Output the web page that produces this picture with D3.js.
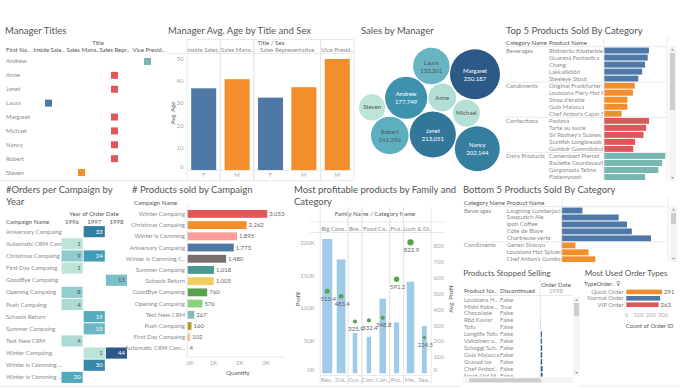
<!DOCTYPE html>
<html>
<head>
<meta charset="utf-8">
<script src="https://cdn.jsdelivr.net/npm/d3@7"></script>
<style>
  body { margin: 0; background: #fff; }
  svg { display: block; font-family: Lato, "Open Sans", sans-serif; }
</style>
</head>
<body>
<svg id="dash" width="680" height="389"></svg>
<script>
// ---------------- DATA ----------------
const managerNames = ["Andrew", "Anne", "Janet", "Laura", "Margaret", "Michael", "Nancy", "Robert", "Steven"];
const titleNames = ["Inside Sales Coordinator", "Sales Manager", "Sales Representative", "Vice President, Sales"];
const titleShort = ["Inside Sale..", "Sales Mana..", "Sales Repr..", "Vice Presid.."];
const managerTitle = [3, 2, 2, 0, 2, 2, 2, 2, 1];

const ageGroups = ["Inside Sales..", "Sales Mana..", "Sales Representative", "Sales Representative", "Vice Presid.."];
const ageSex = ["F", "M", "F", "M", "M"];
const avgAge = [36.8, 40.9, 32.6, 37.3, 50];
const ageTicks = [0, 10, 20, 30, 40, 50];

const salesNames = ["Janet", "Andrew", "Anne", "Robert", "Laura", "Steven", "Margaret", "Michael", "Nancy"];
const salesValues = [213051, 177749, 77308, 141296, 133301, 68792, 250187, 73913, 202144];

const categories = ["Beverages", "Condiments", "Confections", "Dairy Products"];
const topProducts = ["Rhönbräu Klosterbier", "Guaraná Fantástica", "Chang", "Lakkalikööri", "Steeleye Stout",
  "Original Frankfurter grüne Soße", "Louisiana Fiery Hot Pepper Sauce", "Sirop d'érable", "Gula Malacca", "Chef Anton's Cajun Seasoning",
  "Pavlova", "Tarte au sucre", "Sir Rodney's Scones", "Scottish Longbreads", "Gumbär Gummibärchen",
  "Camembert Pierrot", "Raclette Courdavault", "Gorgonzola Telino", "Flotemysost", "Mozzarella di Giovanni"];
const topCategory = [0, 0, 0, 0, 0, 1, 1, 1, 1, 1, 2, 2, 2, 2, 2, 3, 3, 3, 3, 3];
const topQuantity = [1155, 1125, 1057, 981, 883, 791, 745, 603, 601, 453, 1158, 1083, 1016, 799, 753, 1577, 1496, 1397, 1057, 806];

const campaignRows = ["Aniversary Campaing", "Automatic CRM Cam..", "Christmas Campaing", "First Day Campaing",
  "GoodBye Campaing", "Opening Campaing", "Push Campaing", "Schools Return", "Summer Campaing",
  "Test New CRM", "Winter Campaing", "Winter is Comming ...", "Winter is Comming ..."];
const orderYears = ["1996", "1997", "1998"];
const orders1996 = [null, 1, 9, 1, null, 8, 4, null, null, 4, null, null, 20];
const orders1997 = [33, null, 24, null, null, null, null, 19, 15, null, 1, 30, null];
const orders1998 = [null, null, null, null, 13, null, null, null, null, null, 44, null, null];

const soldCampaigns = ["Winter Campaing", "Christmas Campaing", "Winter is Comming ", "Aniversary Campaing",
  "Winter is Comming C..", "Summer Campaing", "Schools Return", "GoodBye Campaing", "Opening Campaing",
  "Test New CRM", "Push Campaing", "First Day Campaing", "Automatic CRM Cam..."];
const soldQuantity = [3053, 2262, 1895, 1773, 1480, 1018, 1005, 760, 576, 267, 160, 102, 4];
const soldColors = ["#e15759", "#f28e2b", "#ff9d9a", "#4e79a7", "#79706e", "#499894", "#f1ce63",
  "#59a14f", "#8cd17d", "#86bcb6", "#b6992d", "#ffbe7d", "#a0cbe8"];
const quantityTicks = [0, 1000, 2000, 3000];

const familyOfCat = ["Big Cons..", "Big Cons..", "Bre..", "Food Co..", "Food Co..", "Frui..", "Luch & Di..", "Luch & Di.."];
const profitCats = ["Bev..", "Dai..", "Gra..", "Con..", "Con..", "Pro..", "Me..", "Sea.."];
const profit = [206600, 175400, 62000, 56300, 114800, 78500, 140900, 72800];
const avgProfit = [515.4, 483.4, 325.9, 332.4, 348.8, 591.2, 822.9, 224.5];
const profitTicks = [0, 50000, 100000, 150000, 200000];
const avgProfitTicks = [0, 100, 200, 300, 400, 500, 600, 700, 800];

const bottomProducts = ["Laughing Lumberjack Lager", "Sasquatch Ale", "Ipoh Coffee", "Côte de Blaye", "Chartreuse verte",
  "Genen Shouyu", "Louisiana Hot Spiced Okra", "Chef Anton's Gumbo Mix"];
const bottomCategory = [0, 0, 0, 0, 0, 1, 1, 1];
const bottomQuantity = [184, 506, 580, 623, 793, 122, 239, 298];

const stoppedProducts = ["Louisiana H..", "Mishi Kobe ..", "Chocolade", "Röd Kaviar", "Tofu", "Longlife Tofu",
  "Valkoinen s..", "Schoggi Sch..", "Gula Malacca", "Gravad lax", "Chef Anton'..", "Nord-Ost M.."];
const stoppedFlag = ["False", "True", "False", "False", "False", "False", "False", "False", "False", "False", "False", "False"];
const stopped1998 = [0, 0, 0, 3, 4, 15, 15, 18, 18, 18, 22, 22];

const orderTypes = ["Quick Order", "Normal Order", "VIP Order"];
const orderTypeCount = [291, 276, 263];
const orderTypeColors = ["#f28e2b", "#4e79a7", "#e15759"];
const countTicks = [0, 100, 200, 300];

const titleColors = ["#4e79a7", "#f28e2b", "#e15759", "#76b7b2"];
const categoryColors = ["#4e79a7", "#f28e2b", "#e15759", "#76b7b2"];
const sexColors = { F: "#4e79a7", M: "#f28e2b" };
const blueTeal = ["#bce4d8", "#80c2ca", "#46a1b8", "#337c9f", "#2c5985"];

// ---------------- HELPERS ----------------
const svg = d3.select("#dash");
const C_TITLE = "#555", C_HEAD = "#555", C_ROW = "#8a8a8a", C_TICK = "#a8a8a8", C_LINE = "#e4e4e4";

function label(g, x, y, s, size, color, anchor) {
  return g.append("text").attr("x", x).attr("y", y)
    .attr("font-size", size).attr("fill", color)
    .attr("text-anchor", anchor || "start").text(s);
}
function hline(g, x1, x2, y, color) {
  g.append("line").attr("x1", x1).attr("x2", x2).attr("y1", y).attr("y2", y)
    .attr("stroke", color || C_LINE).attr("stroke-width", 0.8);
}
function vline(g, x, y1, y2, color) {
  g.append("line").attr("x1", x).attr("x2", x).attr("y1", y1).attr("y2", y2)
    .attr("stroke", color || C_LINE).attr("stroke-width", 0.8);
}
function spans(list) {
  const out = [];
  list.forEach((name, i) => {
    const last = out[out.length - 1];
    if (last && last.name === name) last.end = i;
    else out.push({ name: name, start: i, end: i });
  });
  return out;
}
function scrollbar(g, x, y1, y2, t1, t2) {
  g.append("rect").attr("x", x).attr("y", y1).attr("width", 7).attr("height", y2 - y1).attr("fill", "#f4f4f4");
  g.append("rect").attr("x", x + 1).attr("y", t1).attr("width", 5).attr("height", t2 - t1).attr("fill", "#cdcdcd");
  g.append("path").attr("d", `M${x + 2},${y1 + 4} L${x + 3.5},${y1 + 2} L${x + 5},${y1 + 4}Z`).attr("fill", "#999");
  g.append("path").attr("d", `M${x + 2},${y2 - 4} L${x + 3.5},${y2 - 2} L${x + 5},${y2 - 4}Z`).attr("fill", "#999");
}

// ---------------- MANAGER TITLES ----------------
const g1 = svg.append("g");
label(g1, 5, 33.5, "Manager Titles", 9.5, C_TITLE);
const xTitle = d3.scaleBand(titleNames, [32, 164]);
const yMgr = d3.scaleBand(managerNames, [54.5, 179.5]);
label(g1, 98, 45, "Title", 6, C_HEAD, "middle");
label(g1, 6, 52, "First Na..", 6, C_HEAD);
titleNames.forEach((t, i) => label(g1, xTitle(t) + 1.5, 52, titleShort[i], 6, C_HEAD));
managerNames.forEach(n => label(g1, 6, yMgr(n) + yMgr.bandwidth() / 2 + 2, n, 6, C_ROW));
g1.selectAll(".sq").data(managerNames).join("rect")
  .attr("x", (d, i) => xTitle(titleNames[managerTitle[i]]) + xTitle.bandwidth() / 2 - 3.5)
  .attr("y", d => yMgr(d) + yMgr.bandwidth() / 2 - 3.5)
  .attr("width", 7).attr("height", 7)
  .attr("fill", (d, i) => titleColors[managerTitle[i]]);
hline(g1, 0, 163, 180.5);

// ---------------- MANAGER AVG AGE ----------------
const g2 = svg.append("g");
label(g2, 168, 33.5, "Manager Avg. Age by Title and Sex", 9.5, C_TITLE);
const xAge = d3.scaleBand(d3.range(avgAge.length), [187, 354]).paddingInner(0.25).paddingOuter(0.125);
const yAge = d3.scaleLinear([0, 50], [170, 59]);
const slotL = i => xAge(i) - xAge.step() * 0.125;
label(g2, 271, 45, "Title / Sex", 6, C_HEAD, "middle");
hline(g2, 187, 354, 39.5);
hline(g2, 168, 354, 53.5);
spans(ageGroups).forEach(s => {
  const x0 = slotL(s.start), x1 = slotL(s.end) + xAge.step();
  label(g2, (x0 + x1) / 2, 52, s.name, 6, C_ROW, "middle");
  vline(g2, x0, 39.5, 180);
  vline(g2, x1, 39.5, 180);
});
ageTicks.forEach(t => label(g2, 183.5, t === 0 ? yAge(t) - 1 : yAge(t) + 2, t, 6, C_TICK, "end"));
label(g2, 0, 0, "Avg. Age", 6, C_HEAD, "middle").attr("transform", "translate(175,113) rotate(-90)");
g2.selectAll(".bar").data(avgAge).join("rect")
  .attr("x", (d, i) => xAge(i))
  .attr("y", d => yAge(d))
  .attr("width", xAge.bandwidth())
  .attr("height", d => yAge(0) - yAge(d))
  .attr("fill", (d, i) => sexColors[ageSex[i]]);
hline(g2, 187, 354, 170.5);
ageSex.forEach((s, i) => label(g2, xAge(i) + xAge.bandwidth() / 2, 176.5, s, 6, C_TICK, "middle"));
hline(g2, 163, 354, 180.5);

// ---------------- SALES BY MANAGER ----------------
// packed bubbles: each bubble is set against two bubbles already placed
const bubbleLinks = [null, null, ["Janet", "Andrew"], ["Andrew", "Janet"], ["Anne", "Andrew"],
  ["Andrew", "Robert"], ["Anne", "Laura"], ["Anne", "Margaret"], ["Janet", "Michael"]];
const g3 = svg.append("g");
label(g3, 361, 33.5, "Sales by Manager", 9.5, C_TITLE);
const bubR = d3.scaleSqrt().domain([0, d3.max(salesValues)]).range([0, 25]);
const bubColor = d3.scaleSequential(d3.piecewise(d3.interpolateRgb, blueTeal))
  .domain(d3.extent(salesValues));
const bubbles = salesNames.map((n, i) => ({ name: n, value: salesValues[i], r: bubR(salesValues[i]) }));
const byName = {};
const gap = 1.2, rot = -126 * Math.PI / 180;
bubbles.forEach((b, i) => {
  if (i === 0) {
    b.x = 0; b.y = 0;
  } else if (i === 1) {
    const d = bubbles[0].r + b.r + gap;
    b.x = d * Math.cos(rot); b.y = d * Math.sin(rot);
  } else {
    const a = byName[bubbleLinks[i][0]], c = byName[bubbleLinks[i][1]];
    const R1 = a.r + b.r + gap, R2 = c.r + b.r + gap;
    const dx = c.x - a.x, dy = c.y - a.y, d = Math.hypot(dx, dy);
    const l = (R1 * R1 - R2 * R2 + d * d) / (2 * d);
    const h = Math.sqrt(Math.max(0, R1 * R1 - l * l));
    b.x = a.x + (l * dx - h * dy) / d;
    b.y = a.y + (l * dy + h * dx) / d;
  }
  byName[b.name] = b;
});
const bx = (d3.min(bubbles, b => b.x - b.r) + d3.max(bubbles, b => b.x + b.r)) / 2;
const by = (d3.min(bubbles, b => b.y - b.r) + d3.max(bubbles, b => b.y + b.r)) / 2;
const bub = g3.append("g").attr("transform", `translate(${429.5 - bx},${109.5 - by})`);
const node = bub.selectAll(".b").data(bubbles).join("g")
  .attr("transform", d => `translate(${d.x},${d.y})`);
node.append("circle").attr("r", d => d.r).attr("fill", d => bubColor(d.value));
node.append("text")
  .attr("y", d => d.r > 17 ? -1.5 : 2)
  .attr("text-anchor", "middle").attr("font-size", 6)
  .attr("fill", d => d.value > 160000 ? "#fff" : "#555")
  .text(d => d.name);
node.filter(d => d.r > 17).append("text")
  .attr("y", 6.5)
  .attr("text-anchor", "middle").attr("font-size", 6)
  .attr("fill", d => d.value > 160000 ? "#fff" : "#555")
  .text(d => d3.format(",")(d.value));

// ---------------- TOP 5 PRODUCTS ----------------
const g4 = svg.append("g");
label(g4, 506, 33.5, "Top 5 Products Sold By Category", 9.5, C_TITLE);
label(g4, 506, 44.5, "Category Name", 6, C_HEAD);
label(g4, 549, 44.5, "Product Name", 6, C_HEAD);
const yTop = d3.scaleBand(d3.range(topProducts.length), [46.5, 46.5 + topProducts.length * 7.08]).padding(0.15);
const xTop = d3.scaleLinear([0, 1600], [604, 666.2]);
const topBottom = 181;
svg.append("clipPath").attr("id", "clipTop").append("rect").attr("x", 500).attr("y", 46.5).attr("width", 168).attr("height", topBottom - 46.5);
svg.append("clipPath").attr("id", "clipTopName").append("rect").attr("x", 548).attr("y", 40).attr("width", 55).attr("height", 150);
const topG = g4.append("g").attr("clip-path", "url(#clipTop)");
const topNames = topG.append("g").attr("clip-path", "url(#clipTopName)");
topG.selectAll(".bar").data(topQuantity).join("rect")
  .attr("x", xTop(0))
  .attr("y", (d, i) => yTop(i))
  .attr("width", d => xTop(d) - xTop(0))
  .attr("height", yTop.bandwidth())
  .attr("fill", (d, i) => categoryColors[topCategory[i]]);
topProducts.forEach((p, i) => {
  if (yTop(i) < topBottom) label(topNames, 549, yTop(i) + yTop.bandwidth() / 2 + 2, p, 6, C_ROW);
});
spans(topCategory).forEach(s => {
  const y0 = yTop(s.start) - yTop.step() * 0.15 / 2;
  label(topG, 506, y0 + yTop.step() / 2 + 2, categories[s.name], 6, C_ROW);
  if (s.start > 0) hline(topG, 506, 667, y0);
});
hline(g4, 506, 667, 46.5);
vline(g4, 604, 37, 181);
vline(g4, 667, 37, 181);
scrollbar(g4, 669, 46.5, 181, 53, 110);

// ---------------- ORDERS PER CAMPAIGN ----------------
const g5 = svg.append("g");
label(g5, 6, 193, "#Orders per Campaign by", 9.5, C_TITLE);
label(g5, 6, 205, "Year", 9.5, C_TITLE);
const xYear = d3.scaleBand(orderYears, [61, 127.5]);
const yCamp = d3.scaleBand(d3.range(campaignRows.length), [225.6, 225.6 + campaignRows.length * 12.14]);
const heat = d3.scaleSequential(d3.piecewise(d3.interpolateRgb, blueTeal)).domain([1, 44]);
label(g5, 94, 216, "Year of Order Date", 6, C_HEAD, "middle");
label(g5, 6, 224, "Campaign Name", 6, C_HEAD);
orderYears.forEach(y => label(g5, xYear(y) + xYear.bandwidth() / 2, 224, y, 6, C_HEAD, "middle"));
campaignRows.forEach((c, i) => label(g5, 6, yCamp(i) + yCamp.bandwidth() / 2 + 2, c, 6, C_ROW));
const cells = [orders1996, orders1997, orders1998].flatMap((vals, yi) =>
  vals.map((v, ci) => ({ year: orderYears[yi], row: ci, value: v }))).filter(d => d.value !== null);
g5.selectAll(".cell").data(cells).join("rect")
  .attr("x", d => xYear(d.year) + 0.5)
  .attr("y", d => yCamp(d.row) + 0.5)
  .attr("width", xYear.bandwidth() - 1)
  .attr("height", yCamp.bandwidth() - 1)
  .attr("fill", d => heat(d.value));
g5.selectAll(".num").data(cells).join("text")
  .attr("x", d => xYear(d.year) + xYear.bandwidth() - 2.5)
  .attr("y", d => yCamp(d.row) + yCamp.bandwidth() / 2 + 2)
  .attr("text-anchor", "end").attr("font-size", 6)
  .attr("fill", d => d.value >= 15 ? "#fff" : "#555")
  .text(d => d.value);

// ---------------- PRODUCTS SOLD BY CAMPAIGN ----------------
const g6 = svg.append("g");
label(g6, 132, 193, "# Products sold by Campaign", 9.5, C_TITLE);
label(g6, 134, 205, "Campaign Name", 6, C_HEAD);
const xQty = d3.scaleLinear([0, 3000], [187.3, 265.9]);
const yQty = d3.scaleBand(d3.range(soldQuantity.length), [206.6, 206.6 + soldQuantity.length * 11.47]).padding(0.3);
g6.selectAll(".bar").data(soldQuantity).join("rect")
  .attr("x", xQty(0))
  .attr("y", (d, i) => yQty(i))
  .attr("width", d => xQty(d) - xQty(0))
  .attr("height", yQty.bandwidth())
  .attr("fill", (d, i) => soldColors[i]);
soldCampaigns.forEach((c, i) => label(g6, 185, yQty(i) + yQty.bandwidth() / 2 + 2, c, 6, C_ROW, "end"));
soldQuantity.forEach((q, i) => label(g6, xQty(q) + 2, yQty(i) + yQty.bandwidth() / 2 + 2, d3.format(",")(q), 6, "#666"));
vline(g6, 187.3, 206, 357);
hline(g6, 187.3, 285, 357);
quantityTicks.forEach(t => label(g6, xQty(t) + (t === 0 ? 3 : 0), 365, t / 1000 + "K", 6, C_TICK, "middle"));
label(g6, 238, 375, "Quantity", 6, C_HEAD, "middle");

// ---------------- MOST PROFITABLE ----------------
const g7 = svg.append("g");
label(g7, 294, 193, "Most profitable products by Family and", 9.5, C_TITLE);
label(g7, 294, 205, "Category", 9.5, C_TITLE);
const xProf = d3.scaleBand(d3.range(profitCats.length), [320.3, 431.3]);
const yProf = d3.scaleLinear([0, 200000], [373.3, 243.3]);
const yAvg = d3.scaleLinear([0, 800], [373.3, 246]);
const wProf = d3.scaleLinear([0, d3.max(profit)], [2.2, 10]);
const rDot = d3.scaleSqrt([0, d3.max(avgProfit)], [0, 3.2]);
const cx = i => xProf(i) + xProf.bandwidth() / 2;
label(g7, 375, 216, "Family Name / Category Name", 6, C_HEAD, "middle");
hline(g7, 310, 445, 222);
hline(g7, 310, 445, 232.5);
spans(familyOfCat).forEach(s => {
  const x0 = xProf(s.start), x1 = xProf(s.end) + xProf.step();
  label(g7, (x0 + x1) / 2, 230.5, s.name, 6, C_ROW, "middle");
  vline(g7, x0, 207, 384);
  vline(g7, x1, 207, 384);
});
profitTicks.forEach(t => label(g7, 314.7, t === 0 ? yProf(t) - 1 : yProf(t) + 2, t / 1000 + "K", 6, C_TICK, "end"));
avgProfitTicks.forEach(t => label(g7, 433.5, t === 0 ? yAvg(t) - 1 : yAvg(t) + 2, t, 6, C_TICK));
label(g7, 0, 0, "Profit", 6, C_HEAD, "middle").attr("transform", "translate(300,299) rotate(-90)");
label(g7, 0, 0, "Avg. Profit", 6, C_HEAD, "middle").attr("transform", "translate(453,299) rotate(-90)");
g7.selectAll(".bar").data(profit).join("rect")
  .attr("x", (d, i) => cx(i) - wProf(d) / 2)
  .attr("y", d => yProf(d))
  .attr("width", d => wProf(d))
  .attr("height", d => yProf(0) - yProf(d))
  .attr("fill", "#a0cbe8");
g7.selectAll(".dot").data(avgProfit).join("circle")
  .attr("cx", (d, i) => cx(i))
  .attr("cy", d => yAvg(d))
  .attr("r", d => rDot(d))
  .attr("fill", "#59a14f");
avgProfit.forEach((v, i) => label(g7, cx(i) + 1, yAvg(v) + 9.5, v, 6, "#666", "middle"));
hline(g7, 320.3, 431.3, 375.5);
profitCats.forEach((c, i) => label(g7, cx(i), 382, c, 6, C_TICK, "middle"));

// ---------------- BOTTOM 5 PRODUCTS ----------------
const g8 = svg.append("g");
label(g8, 463, 193, "Bottom 5 Products Sold By Category", 9.5, C_TITLE);
label(g8, 464, 205, "Category Name", 6, C_HEAD);
label(g8, 506.7, 205, "Product Name", 6, C_HEAD);
const yBot = d3.scaleBand(d3.range(bottomProducts.length), [206.5, 206.5 + bottomProducts.length * 7.1]).padding(0.15);
const xBot = d3.scaleLinear([0, 800], [561.7, 651.8]);
svg.append("clipPath").attr("id", "clipBot").append("rect").attr("x", 460).attr("y", 206.5).attr("width", 210).attr("height", 55.5);
svg.append("clipPath").attr("id", "clipBotName").append("rect").attr("x", 505).attr("y", 200).attr("width", 55.5).attr("height", 70);
const botG = g8.append("g").attr("clip-path", "url(#clipBot)");
const botNames = botG.append("g").attr("clip-path", "url(#clipBotName)");
botG.selectAll(".bar").data(bottomQuantity).join("rect")
  .attr("x", xBot(0))
  .attr("y", (d, i) => yBot(i))
  .attr("width", d => xBot(d) - xBot(0))
  .attr("height", yBot.bandwidth())
  .attr("fill", (d, i) => categoryColors[bottomCategory[i]]);
bottomProducts.forEach((p, i) => label(botNames, 506.7, yBot(i) + yBot.bandwidth() / 2 + 2, p, 6, C_ROW));
spans(bottomCategory).forEach(s => {
  const y0 = yBot(s.start) - yBot.step() * 0.15 / 2;
  label(botG, 464, y0 + yBot.step() / 2 + 2, categories[s.name], 6, C_ROW);
  if (s.start > 0) hline(botG, 463, 668, y0);
});
hline(g8, 463, 668, 206.5);
vline(g8, 561.7, 198, 262);
vline(g8, 668, 198, 262);
scrollbar(g8, 670, 206.5, 262, 213, 224);

// ---------------- PRODUCTS STOPPED SELLING ----------------
const g9 = svg.append("g");
label(g9, 463.3, 276, "Products Stopped Selling", 8, C_TITLE);
label(g9, 556, 286.5, "Order Date", 6, C_HEAD, "middle");
label(g9, 556, 293.3, "1998", 6, C_TICK, "middle");
label(g9, 464, 293.3, "Product Na..", 6, C_HEAD);
label(g9, 500, 293.3, "Discontinued", 6, C_HEAD);
const yStop = d3.scaleBand(d3.range(stoppedProducts.length), [295.5, 295.5 + stoppedProducts.length * 7.03]).padding(0.2);
const xStop = d3.scaleLinear([0, 350], [540.5, 573]);
svg.append("clipPath").attr("id", "clipStop").append("rect").attr("x", 460).attr("y", 295.5).attr("width", 113).attr("height", 81);
const stopG = g9.append("g").attr("clip-path", "url(#clipStop)");
stoppedProducts.forEach((p, i) => {
  const yy = yStop(i) + yStop.bandwidth() / 2 + 2;
  label(stopG, 464, yy, p, 6, C_ROW);
  label(stopG, 500, yy, stoppedFlag[i], 6, C_ROW);
});
stopG.selectAll(".bar").data(stopped1998).join("rect")
  .attr("x", xStop(0))
  .attr("y", (d, i) => yStop(i))
  .attr("width", d => xStop(d) - xStop(0))
  .attr("height", yStop.bandwidth())
  .attr("fill", "#2c5985");
hline(g9, 463, 573, 295.5);
vline(g9, 540.3, 280, 376);
scrollbar(g9, 573, 297, 376, 303, 316);
g9.append("rect").attr("x", 463).attr("y", 377.5).attr("width", 110).attr("height", 5.5).attr("fill", "#f4f4f4");
g9.append("rect").attr("x", 469).attr("y", 378.3).attr("width", 72).attr("height", 4).attr("fill", "#cdcdcd");

// ---------------- MOST USED ORDER TYPES ----------------
const g10 = svg.append("g");
label(g10, 584.7, 276, "Most Used Order Types", 8, C_TITLE);
label(g10, 584, 286, "TypeOrder.. ⊽", 6, C_HEAD);
const yType = d3.scaleBand(d3.range(orderTypes.length), [287.8, 308.8]).padding(0.28);
const xType = d3.scaleLinear([0, 300], [626.3, 663.1]);
g10.selectAll(".bar").data(orderTypeCount).join("rect")
  .attr("x", xType(0))
  .attr("y", (d, i) => yType(i))
  .attr("width", d => xType(d) - xType(0))
  .attr("height", yType.bandwidth())
  .attr("fill", (d, i) => orderTypeColors[i]);
orderTypes.forEach((t, i) => label(g10, 623.7, yType(i) + yType.bandwidth() / 2 + 2, t, 6, C_ROW, "end"));
const cMax = d3.max(orderTypeCount), cMin = d3.min(orderTypeCount);
orderTypeCount.forEach((c, i) => {
  if (c === cMax || c === cMin) label(g10, xType(c) + 2, yType(i) + yType.bandwidth() / 2 + 2, c, 6, "#666");
});
countTicks.forEach(t => label(g10, xType(t), 317, t, 5.5, C_TICK, "middle"));
label(g10, 649.7, 327.5, "Count of Order ID", 6, C_HEAD, "middle");

// ---------------- BOTTOM LINES ----------------
hline(svg, 0, 460, 386.5);
hline(svg, 580, 680, 386);
</script>
</body>
</html>
